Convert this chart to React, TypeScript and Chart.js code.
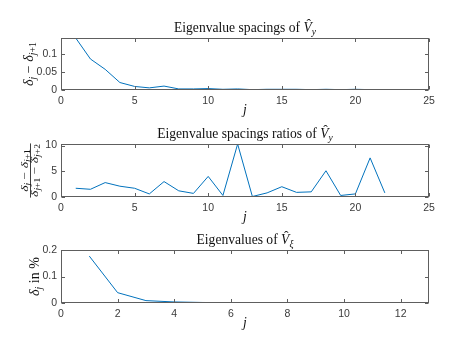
import React, { useEffect, useRef } from "react";
import { Chart, registerables } from "chart.js";

Chart.register(...registerables);

// ---------- data ----------
const spacingJ = [1, 2, 3, 4, 5, 6, 7, 8, 9, 10, 11, 12, 13, 14, 15, 16, 17, 18, 19, 20, 21, 22, 23];
const spacingValues = [0.146, 0.087, 0.058, 0.021, 0.01, 0.006, 0.011, 0.003, 0.003, 0.004, 0.002, 0.003, 0.001, 0.002, 0.002, 0.002, 0.001, 0.002, 0.001, 0.002, 0.001, 0.0005, 0.0003];

const ratioJ = [1, 2, 3, 4, 5, 6, 7, 8, 9, 10, 11, 12, 13, 14, 15, 16, 17, 18, 19, 20, 21, 22];
const ratioValues = [1.7, 1.5, 2.8, 2.1, 1.7, 0.6, 3.0, 1.2, 0.7, 4.0, 0.3, 10.3, 0.1, 0.8, 2.0, 0.9, 1.0, 5.1, 0.3, 0.6, 7.6, 0.8];

const eigenJ = [1, 2, 3, 4, 5, 6, 7, 8, 9, 10, 11, 12];
const eigenValues = [0.177, 0.039, 0.009, 0.004, 0.002, 0.001, 0.0006, 0.0004, 0.0002, 0.0001, 0.00005, 0.00002];

const xTicksWide = [0, 5, 10, 15, 20, 25];
const xTicksNarrow = [0, 2, 4, 6, 8, 10, 12];
const spacingYTicks = [0, 0.05, 0.1];
const spacingYLabels = ["0", "0.05", "0.1"];
const ratioYTicks = [0, 5, 10];
const ratioYLabels = ["0", "5", "10"];
const eigenYTicks = [0, 0.1, 0.2];
const eigenYLabels = ["0", "0.1", "0.2"];

// ---------- styling ----------
const LINE = "#0072BD";
const AXIS = "#5e5e5e";
const TICKTXT = "#3a3a3a";
const SERIF = '"Liberation Serif", "DejaVu Serif", serif';
const SANS = '"Liberation Sans", Arial, sans-serif';

type Seg = { t: string; it?: boolean; sub?: boolean; hat?: boolean };

function segFont(s: Seg, size: number) {
  const sz = s.sub ? size * 0.7 : size;
  return `${s.it ? "italic " : ""}${sz}px ${SERIF}`;
}

function measureSegs(ctx: CanvasRenderingContext2D, segs: Seg[], size: number) {
  let w = 0;
  for (const s of segs) {
    ctx.font = segFont(s, size);
    w += ctx.measureText(s.t).width;
  }
  return w;
}

// draws math segments centred at (0, baseline 0) in current transform
function drawSegs(ctx: CanvasRenderingContext2D, segs: Seg[], size: number, color = "#111") {
  const total = measureSegs(ctx, segs, size);
  let x = -total / 2;
  ctx.fillStyle = color;
  ctx.textBaseline = "alphabetic";
  ctx.textAlign = "left";
  for (const s of segs) {
    ctx.font = segFont(s, size);
    const w = ctx.measureText(s.t).width;
    const y = s.sub ? size * 0.22 : 0;
    ctx.fillText(s.t, x, y);
    if (s.hat) {
      ctx.font = `${size}px ${SERIF}`;
      const hw = ctx.measureText("\u02C6").width;
      ctx.fillText("\u02C6", x + w / 2 - hw / 2 + size * 0.08, -size * 0.2);
    }
    x += w;
  }
}

type YLabel = (ctx: CanvasRenderingContext2D, cy: number) => void;

type PanelCfg = {
  xs: number[];
  ys: number[];
  xMax: number;
  xTicks: number[];
  yMax: number;
  yTicks: number[];
  yLabels: string[];
  title: Seg[];
  yLabel: YLabel;
  height: number;
  padTop: number;
  padBottom: number;
  xAxisH: number;
};

const jLabel: Seg[] = [{ t: "j", it: true }];

const panels: (PanelCfg & { top: number })[] = [
  {
    top: 0,
    height: 120,
    padTop: 38,
    padBottom: 0,
    xAxisH: 30,
    xs: spacingJ,
    ys: spacingValues,
    xMax: 25,
    xTicks: xTicksWide,
    yMax: 0.146,
    yTicks: spacingYTicks,
    yLabels: spacingYLabels,
    title: [
      { t: "Eigenvalue spacings of " },
      { t: "V", it: true, hat: true },
      { t: "y", it: true, sub: true },
    ],
    yLabel: (ctx, cy) => {
      ctx.save();
      ctx.translate(33, cy);
      ctx.rotate(-Math.PI / 2);
      drawSegs(ctx, [
        { t: "\u03B4", it: true },
        { t: "j", it: true, sub: true },
        { t: " \u2212 " },
        { t: "\u03B4", it: true },
        { t: "j", it: true, sub: true },
        { t: "+1", sub: true },
      ], 14);
      ctx.restore();
    },
  },
  {
    top: 120,
    height: 105,
    padTop: 24,
    padBottom: 0,
    xAxisH: 28,
    xs: ratioJ,
    ys: ratioValues,
    xMax: 25,
    xTicks: xTicksWide,
    yMax: 10.3,
    yTicks: ratioYTicks,
    yLabels: ratioYLabels,
    title: [
      { t: "Eigenvalue spacings ratios of " },
      { t: "V", it: true, hat: true },
      { t: "y", it: true, sub: true },
    ],
    yLabel: (ctx, cy) => {
      const size = 10.5;
      const num: Seg[] = [
        { t: "\u03B4", it: true },
        { t: "j", it: true, sub: true },
        { t: " \u2212 " },
        { t: "\u03B4", it: true },
        { t: "j", it: true, sub: true },
        { t: "+1", sub: true },
      ];
      const den: Seg[] = [
        { t: "\u03B4", it: true },
        { t: "j", it: true, sub: true },
        { t: "+1", sub: true },
        { t: " \u2212 " },
        { t: "\u03B4", it: true },
        { t: "j", it: true, sub: true },
        { t: "+2", sub: true },
      ];
      ctx.save();
      ctx.translate(0, cy);
      ctx.rotate(-Math.PI / 2);
      ctx.scale(1.3, 1);
      const wDen = measureSegs(ctx, den, size);
      const wNum = measureSegs(ctx, num, size);
      const w = Math.max(wDen, wNum) + 1;
      ctx.save();
      ctx.translate(0, 27.5);
      drawSegs(ctx, num, size);
      ctx.restore();
      ctx.fillStyle = "#111";
      ctx.fillRect(-w / 2, 30, w, 0.8);
      ctx.save();
      ctx.translate(0, 37.5);
      drawSegs(ctx, den, size);
      ctx.restore();
      ctx.restore();
    },
  },
  {
    top: 225,
    height: 130,
    padTop: 25,
    padBottom: 22,
    xAxisH: 30,
    xs: eigenJ,
    ys: eigenValues,
    xMax: 13,
    xTicks: xTicksNarrow,
    yMax: 0.2,
    yTicks: eigenYTicks,
    yLabels: eigenYLabels,
    title: [
      { t: "Eigenvalues of " },
      { t: "V", it: true, hat: true },
      { t: "\u03BE", it: true, sub: true },
    ],
    yLabel: (ctx, cy) => {
      ctx.save();
      ctx.translate(39, cy);
      ctx.rotate(-Math.PI / 2);
      drawSegs(ctx, [
        { t: "\u03B4", it: true },
        { t: "j", it: true, sub: true },
        { t: " in %" },
      ], 14);
      ctx.restore();
    },
  },
];

function makeDecor(cfg: PanelCfg) {
  return {
    id: "decor",
    afterDraw(chart: any) {
      const ctx: CanvasRenderingContext2D = chart.ctx;
      const a = chart.chartArea;
      const xs = chart.scales.x;
      const ys = chart.scales.y;
      ctx.save();
      // box
      ctx.strokeStyle = AXIS;
      ctx.lineWidth = 1;
      const L = Math.round(a.left) + 0.5;
      const R = Math.round(a.right) - 0.5;
      const T = Math.round(a.top) + 0.5;
      const B = Math.round(a.bottom) - 0.5;
      ctx.strokeRect(L, T, R - L, B - T);
      // inner ticks
      const tl = 3.5;
      ctx.beginPath();
      for (const v of cfg.xTicks) {
        const px = Math.round(xs.getPixelForValue(v)) + 0.5;
        ctx.moveTo(px, B);
        ctx.lineTo(px, B - tl);
        ctx.moveTo(px, T);
        ctx.lineTo(px, T + tl);
      }
      for (const v of cfg.yTicks) {
        const py = Math.round(ys.getPixelForValue(v)) + 0.5;
        ctx.moveTo(L, py);
        ctx.lineTo(L + tl, py);
        ctx.moveTo(R, py);
        ctx.lineTo(R - tl, py);
      }
      ctx.stroke();
      const cx = (a.left + a.right) / 2;
      // title
      ctx.save();
      ctx.translate(cx, a.top - 6);
      drawSegs(ctx, cfg.title, 13.6);
      ctx.restore();
      // x label
      ctx.save();
      ctx.translate(cx, a.bottom + 24);
      drawSegs(ctx, jLabel, 13.6);
      ctx.restore();
      // y label
      cfg.yLabel(ctx, (a.top + a.bottom) / 2);
      ctx.restore();
    },
  };
}

function Panel({ cfg }: { cfg: PanelCfg & { top: number } }) {
  const ref = useRef<HTMLCanvasElement | null>(null);
  useEffect(() => {
    if (!ref.current) return;
    const tickFont = { family: SANS, size: 10.5 };
    const chart = new Chart(ref.current, {
      type: "line",
      data: {
        datasets: [
          {
            data: cfg.xs.map((x, i) => ({ x, y: cfg.ys[i] })),
            borderColor: LINE,
            borderWidth: 1,
            pointRadius: 0,
            fill: false,
            tension: 0,
          },
        ],
      },
      options: {
        responsive: false,
        animation: false,
        devicePixelRatio: 1,
        events: [],
        layout: { padding: { top: cfg.padTop, right: 45, bottom: cfg.padBottom, left: 0 } },
        plugins: { legend: { display: false }, tooltip: { enabled: false }, title: { display: false } },
        scales: {
          x: {
            type: "linear",
            min: 0,
            max: cfg.xMax,
            grid: { display: false, drawTicks: false },
            border: { display: false },
            afterBuildTicks: (s: any) => {
              s.ticks = cfg.xTicks.map((v) => ({ value: v }));
            },
            afterFit: (s: any) => {
              s.height = cfg.xAxisH;
            },
            ticks: {
              padding: 5,
              color: TICKTXT,
              font: tickFont,
              maxRotation: 0,
              autoSkip: false,
              callback: (v: any) => String(v),
            },
          },
          y: {
            type: "linear",
            min: 0,
            max: cfg.yMax,
            grid: { display: false, drawTicks: false },
            border: { display: false },
            afterBuildTicks: (s: any) => {
              s.ticks = cfg.yTicks.map((v) => ({ value: v }));
            },
            afterFit: (s: any) => {
              s.width = 61;
            },
            ticks: {
              padding: 4,
              color: TICKTXT,
              font: tickFont,
              autoSkip: false,
              callback: (_v: any, i: number) => cfg.yLabels[i],
            },
          },
        },
      } as any,
      plugins: [makeDecor(cfg)],
    });
    return () => chart.destroy();
  }, [cfg]);
  return (
    <canvas
      ref={ref}
      width={474}
      height={cfg.height}
      style={{ position: "absolute", left: 0, top: cfg.top, width: 474, height: cfg.height }}
    />
  );
}

export default function App() {
  return (
    <div
      style={{
        position: "fixed",
        left: 0,
        top: 0,
        width: 474,
        height: 355,
        background: "#fff",
        overflow: "hidden",
      }}
    >
      {panels.map((p, i) => (
        <Panel key={i} cfg={p} />
      ))}
    </div>
  );
}
